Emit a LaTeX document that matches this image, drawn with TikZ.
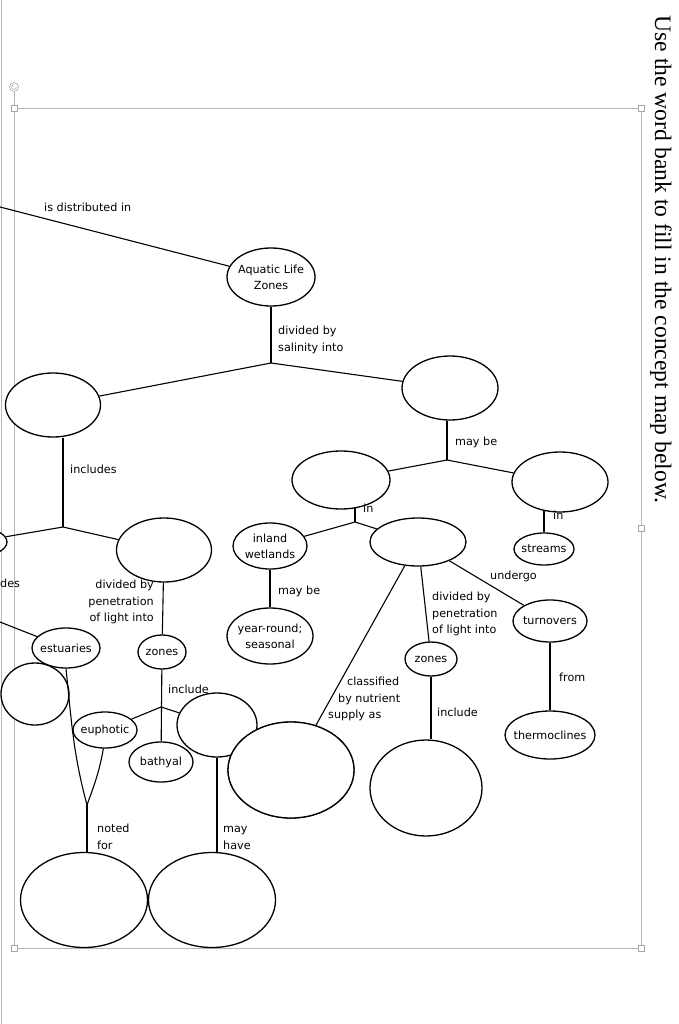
\documentclass[tikz,border=0pt]{standalone}
\usepackage{fontspec}
\setmainfont{Liberation Serif}
\newfontfamily\mapfont{DejaVu Sans}
\usetikzlibrary{shapes.geometric}
\tikzset{
	edge/.style={line width=1.1pt},
	bubble/.style 2 args={ellipse, draw, line width=1.3pt, fill=white, inner xsep=-7pt, inner ysep=-3pt, minimum width=#1pt, minimum height=#2pt, align=center, font=\mapfont\fontsize{11.2}{16}\selectfont},
	link/.style={inner sep=0pt, align=left, font=\mapfont\fontsize{11.2}{16.5}\selectfont}
}
\tikzset{
	frame/.style={draw=black!28, line width=0.7pt},
	handle/.style={rectangle, draw=black!35, fill=white, line width=0.6pt, minimum size=6pt, inner sep=0pt}
}

\begin{document}
\begin{tikzpicture}[x=1pt, y=-1pt]
\useasboundingbox (0,0) rectangle (679,1024);
\clip (0,0) rectangle (679,1024);

% page frame of the text box
\draw[frame] (1,0) -- (1,1024);
\draw[frame] (14,108) rectangle (641,948);
\foreach \x/\y/\n in {14/108/hTL, 641/108/hTR, 641/528/hR, 641/948/hBR, 14/948/hBL}
	\node[handle] (\n) at (\x,\y) {};
\node[circle, draw=black!35, line width=0.6pt, minimum size=9pt, inner sep=0pt] (rot) at (14,87) {};
\draw[frame] (rot) -- (hTL);
\draw[black!40, line width=0.5pt] (rot.center) ++(2.4,0) arc[start angle=0, end angle=280, radius=2.4];

\node[rotate=-90, anchor=west, font=\fontsize{23.6}{26}\selectfont] (title) at (661,12) {Use the word bank to fill in the concept map below.};

% concepts
\node[bubble={88}{58}] (aqua) at (271,277) {Aquatic Life\\Zones};
\node[bubble={95}{64}] (salt) at (53,405) {};
\node[bubble={96}{64}] (fresh) at (450,388) {};
\node[bubble={64}{30}] (reef) at (-25,542) {};
\node[bubble={95}{64}] (ocean) at (164,550) {};
\node[bubble={68}{40}] (estuaries) at (66,648) {estuaries};
\node[bubble={68}{62}] (coast) at (35,694) {};
\node[bubble={48}{34}] (zonesS) at (162,652) {zones};
\node[bubble={64}{36}] (euphotic) at (105,730) {euphotic};
\node[bubble={64}{40}] (bathyal) at (161,762) {bathyal};
\node[bubble={80}{64}] (abyssal) at (217,725) {};
\node[bubble={126}{96}] (nutrient) at (291,770) {};
\node[bubble={127}{95}] (notedfor) at (84,900) {};
\node[bubble={127}{95}] (mayhave) at (212,900) {};
\node[bubble={98}{58}] (standing) at (341,480) {};
\node[bubble={96}{60}] (flowing) at (560,482) {};
\node[bubble={74}{46}] (wetlands) at (270,546) {inland\\wetlands};
\node[bubble={86}{56}] (yearround) at (270,636) {year-round;\\seasonal};
\node[bubble={96}{48}] (lakes) at (418,542) {};
\node[bubble={52}{34}] (zonesL) at (431,659) {zones};
\node[bubble={112}{96}] (lakezones) at (426,788) {};
\node[bubble={60}{32}] (streams) at (544,549) {streams};
\node[bubble={74}{42}] (turnovers) at (550,621) {turnovers};
\node[bubble={90}{48}] (thermoclines) at (550,735) {thermoclines};

\coordinate (offTop) at (0,207);
\coordinate (offEst) at (0,622);
\coordinate (j1) at (271,363);
\coordinate (j2) at (63,527);
\coordinate (j3) at (447,460);
\coordinate (j4) at (355,522);
\coordinate (j5) at (161,707);
\coordinate (noted) at (87,805);

% links
\draw[edge] (offTop) to (aqua);
\draw[edge] (aqua) to (j1);
\draw[edge] (j1) to (salt);
\draw[edge] (j1) to (fresh);
\draw[edge] (salt.south -| j2) to (j2);
\draw[edge] (j2) to (reef);
\draw[edge] (j2) to (ocean);
\draw[edge] (offEst) to (estuaries);
\draw[edge] (ocean) to (zonesS);
\draw[edge] (zonesS) to (bathyal);
\draw[edge] (j5) to (euphotic);
\draw[edge] (j5) to (abyssal);
\draw[edge] (estuaries.south) to[out=-84, in=105] (noted);
\draw[edge] (euphotic.-95) to[out=-100, in=70] (noted);
\draw[edge] (noted) to (noted |- notedfor.north);
\draw[edge] (abyssal) to (abyssal |- mayhave.north);
\draw[edge] (fresh.south -| j3) to (j3);
\draw[edge] (j3) to (standing);
\draw[edge] (j3) to (flowing);
\draw[edge, shorten <=-1.5pt] (standing.south -| j4) to (j4);
\draw[edge] (j4) to (wetlands);
\draw[edge] (j4) to (lakes);
\draw[edge] (wetlands) to (yearround);
\draw[edge, shorten <=-2pt] (flowing.south -| streams) to (streams);
\draw[edge] (lakes) to (zonesL);
\draw[edge] (lakes) to (turnovers);
\draw[edge] (lakes) to (nutrient);
\draw[edge] (zonesL) to (zonesL |- lakezones.north);
\draw[edge] (turnovers) to (thermoclines);
\node[bubble={126}{96}] (nutrientTop) at (nutrient) {};

% link words
\node[link, anchor=west] (lDistr) at (44,207) {is distributed in};
\node[link, anchor=west] (lSalin) at (278,340) {divided by\\salinity into};
\node[link, anchor=west] (lIncl) at (70,469) {includes};
\node[link, anchor=west] (lDes) at (0,583) {des};
\node[link, anchor=east, align=right] (lLightS) at (154,602) {divided by\\penetration\\of light into};
\node[link, anchor=west] (lInclS) at (168,689) {include};
\node[link, anchor=west] (lNoted) at (97,837) {noted\\for};
\node[link, anchor=west] (lHave) at (223,838) {may\\have};
\node[link, anchor=north west] (lClass) at (328,677) {\hspace*{19pt}classified\\\hspace*{10pt}by nutrient\\supply as};
\node[link, anchor=west] (lMayW) at (278,591) {may be};
\node[link, anchor=west] (lInW) at (363,508) {in};
\node[link, anchor=west] (lMayF) at (455,442) {may be};
\node[link, anchor=west] (lInS) at (553,515) {in};
\node[link, anchor=west] (lUnder) at (490,576) {undergo};
\node[link, anchor=west] (lLightL) at (432,614) {divided by\\penetration\\of light into};
\node[link, anchor=west] (lFrom) at (559,677) {from};
\node[link, anchor=west] (lInclL) at (437,712) {include};
\end{tikzpicture}
\end{document}
